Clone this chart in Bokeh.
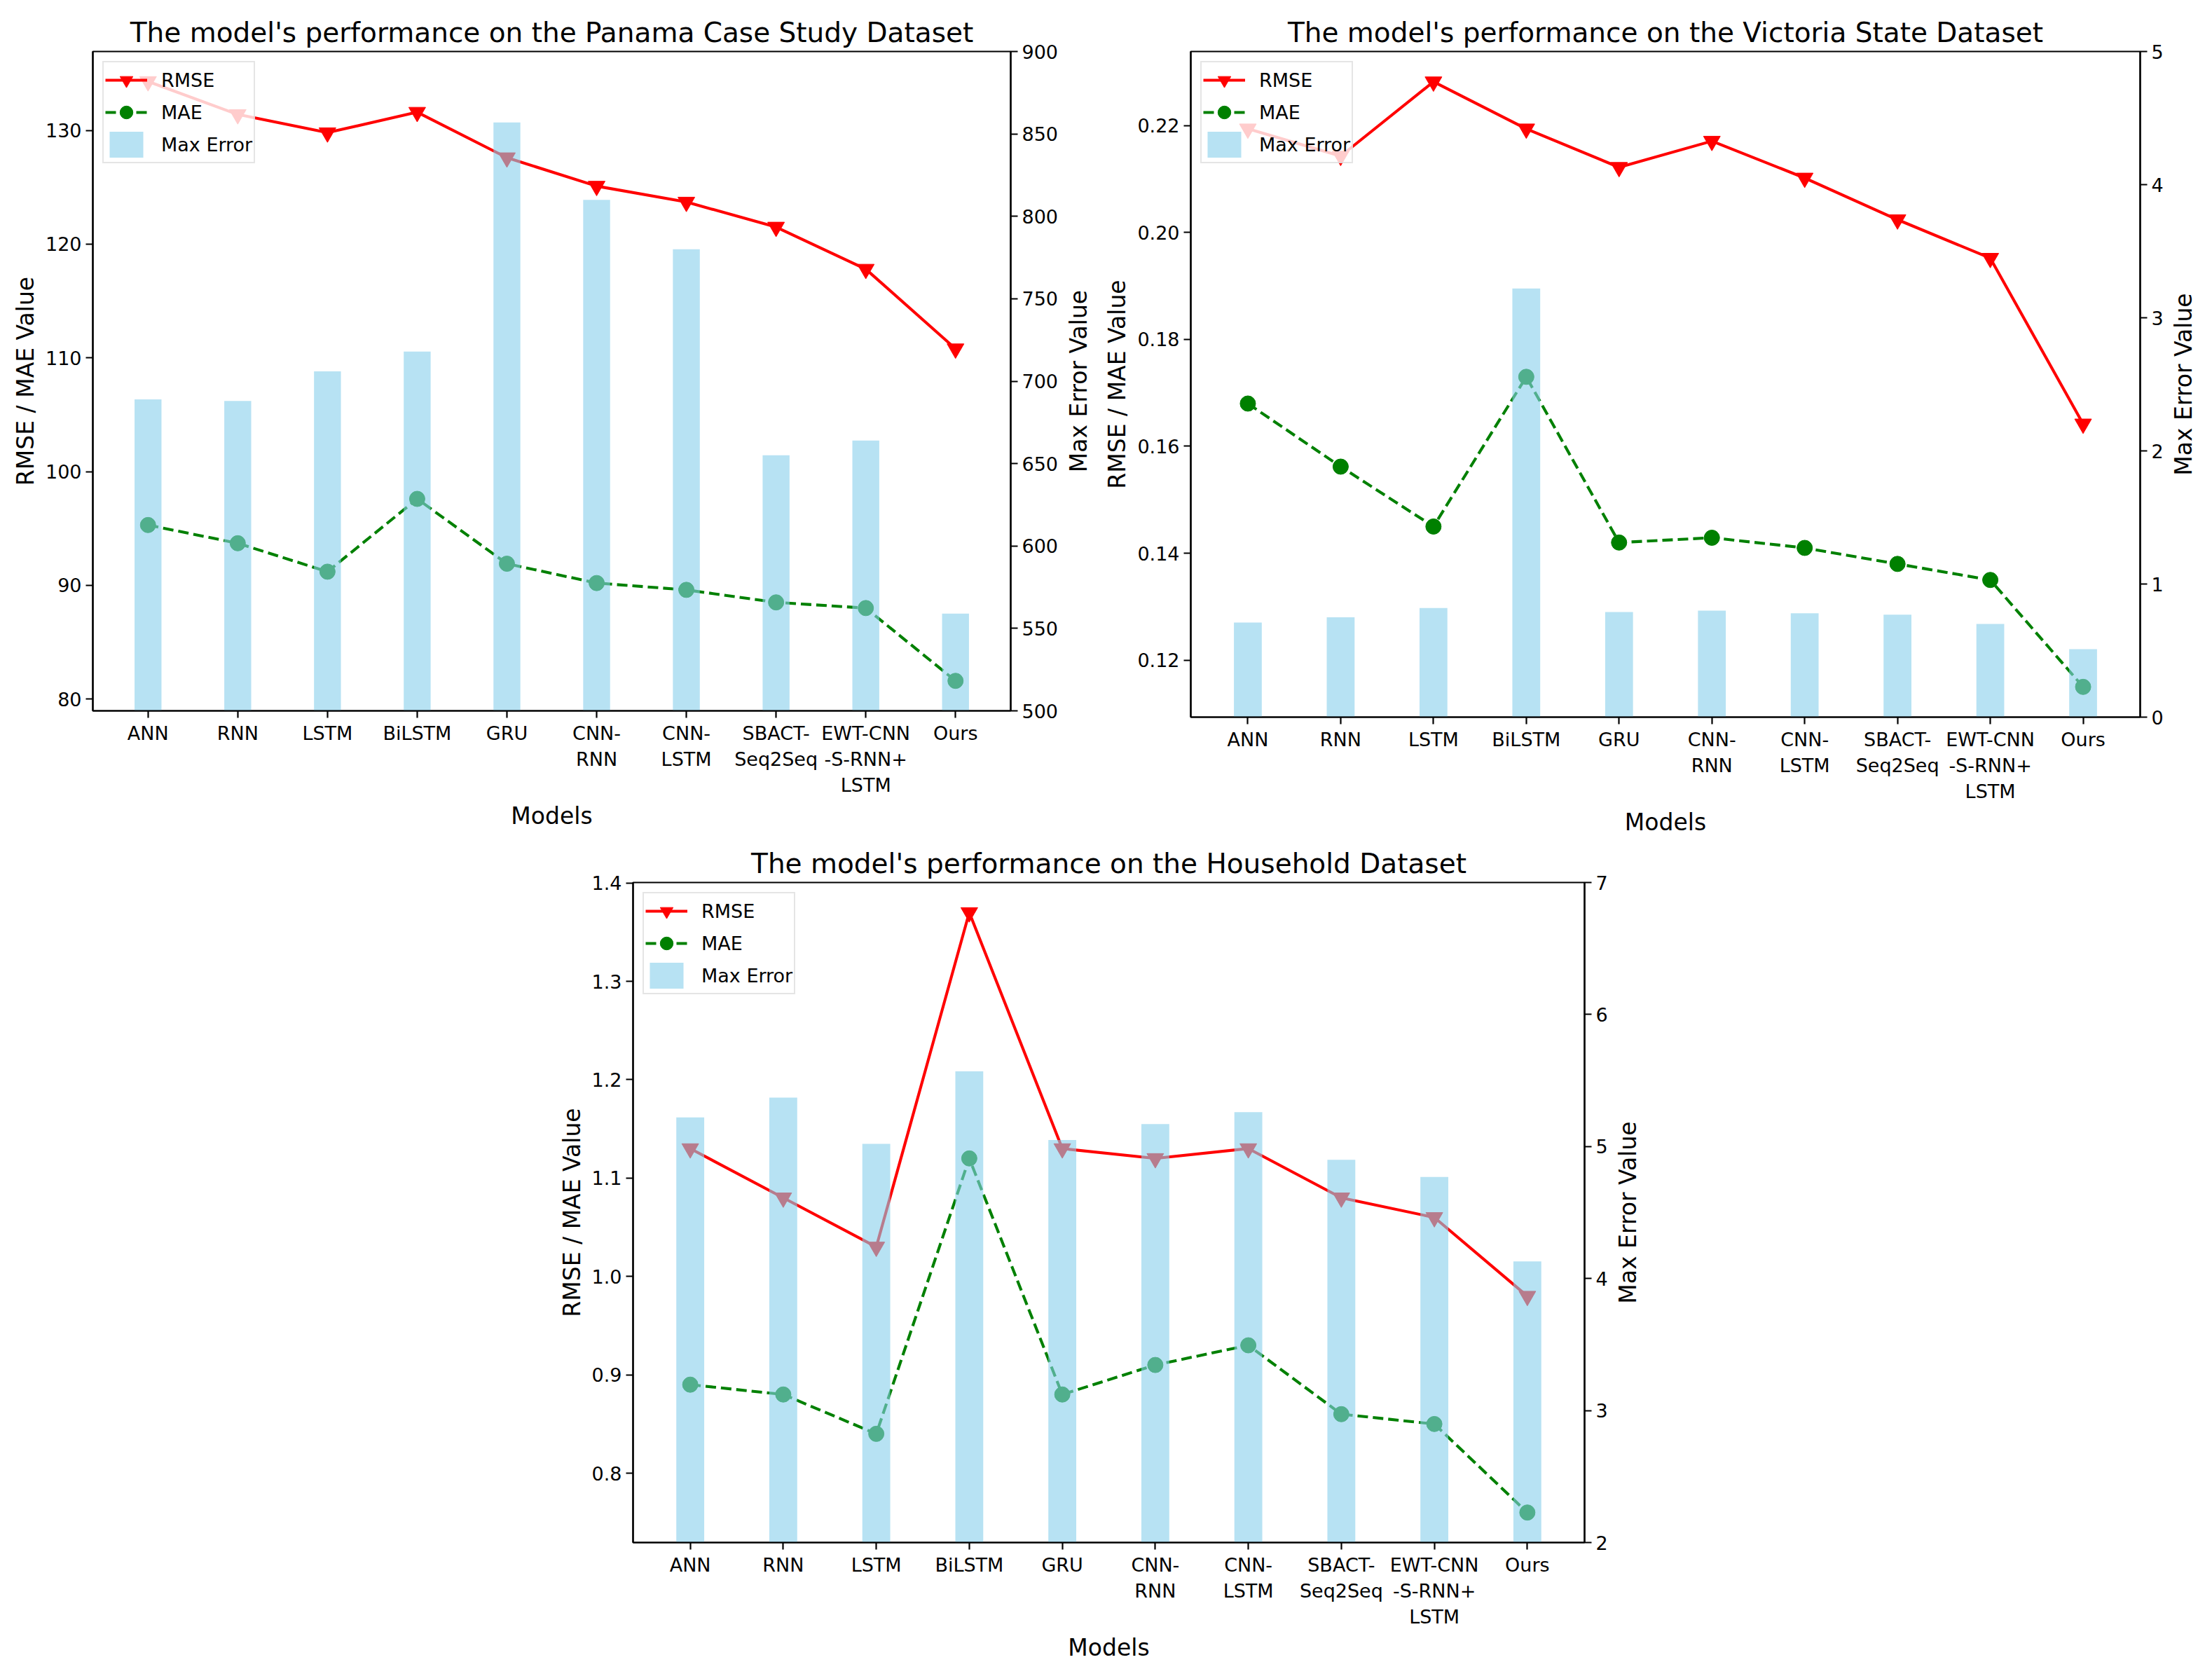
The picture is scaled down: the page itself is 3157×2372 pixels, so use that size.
import math
from bokeh.plotting import figure
from bokeh.models import Range1d, LinearAxis, FixedTicker, Legend, LegendItem
from bokeh.core.properties import value
from bokeh.layouts import column, row
from bokeh.embed import file_html
from bokeh.resources import INLINE

# ---------------- data ----------------
models = ["ANN", "RNN", "LSTM", "BiLSTM", "GRU", "CNN-\nRNN", "CNN-\nLSTM",
          "SBACT-\nSeq2Seq", "EWT-CNN\n-S-RNN+\nLSTM", "Ours"]

panama_rmse = [134.3, 131.4, 129.8, 131.6, 127.6, 125.1, 123.7, 121.5, 117.8, 110.8]
panama_mae = [95.3, 93.7, 91.2, 97.6, 91.9, 90.2, 89.6, 88.5, 88.0, 81.6]
panama_max = [689, 688, 706, 718, 857, 810, 780, 655, 664, 559]
panama_left_ticks = [80, 90, 100, 110, 120, 130]
panama_left_labels = ["80", "90", "100", "110", "120", "130"]
panama_right_ticks = [500, 550, 600, 650, 700, 750, 800, 850, 900]
panama_right_labels = ["500", "550", "600", "650", "700", "750", "800", "850", "900"]
panama_right_lim = [500, 900]

victoria_rmse = [0.2194, 0.2143, 0.2282, 0.2194, 0.2122, 0.2171, 0.2102, 0.2024, 0.1952, 0.1642]
victoria_mae = [0.1680, 0.1562, 0.1450, 0.1730, 0.1420, 0.1429, 0.1410, 0.1380, 0.1350, 0.1150]
victoria_max = [0.71, 0.75, 0.82, 3.22, 0.79, 0.80, 0.78, 0.77, 0.70, 0.51]
victoria_left_ticks = [0.12, 0.14, 0.16, 0.18, 0.20, 0.22]
victoria_left_labels = ["0.12", "0.14", "0.16", "0.18", "0.20", "0.22"]
victoria_right_ticks = [0, 1, 2, 3, 4, 5]
victoria_right_labels = ["0", "1", "2", "3", "4", "5"]
victoria_right_lim = [0, 5]

household_rmse = [1.13, 1.08, 1.03, 1.37, 1.13, 1.12, 1.13, 1.08, 1.06, 0.98]
household_mae = [0.89, 0.88, 0.84, 1.12, 0.88, 0.91, 0.93, 0.86, 0.85, 0.76]
household_max = [5.22, 5.37, 5.02, 5.57, 5.05, 5.17, 5.26, 4.90, 4.77, 4.13]
household_left_ticks = [0.8, 0.9, 1.0, 1.1, 1.2, 1.3, 1.4]
household_left_labels = ["0.8", "0.9", "1.0", "1.1", "1.2", "1.3", "1.4"]
household_right_ticks = [2, 3, 4, 5, 6, 7]
household_right_labels = ["2", "3", "4", "5", "6", "7"]
household_right_lim = [2, 7]

right_axis_title = "Max Error Value"

FONT = "DejaVu Sans"
BAR_W = 0.3
LAB_W = 44


def style_axis(ax):
    ax.axis_line_color = "black"
    ax.axis_line_width = 2.2
    ax.major_tick_line_color = "black"
    ax.major_tick_line_width = 2.2
    ax.major_tick_in = 0
    ax.major_tick_out = 10
    ax.minor_tick_line_color = None
    ax.major_label_text_font = FONT
    ax.major_label_text_font_size = "27px"
    ax.major_label_text_color = "black"
    ax.major_label_standoff = 6
    ax.axis_label_text_font = FONT
    ax.axis_label_text_font_size = "33px"
    ax.axis_label_text_font_style = "normal"
    ax.axis_label_text_color = "black"
    ax.axis_label_standoff = 6


def make_panel(title, rmse, mae, maxerr, left_ticks, left_labels, right_ticks, right_labels,
               right_lim, fw, fh, bl, bt, br, bb):
    n = len(models)
    xs = list(range(n))
    vals = list(rmse) + list(mae)
    lo, hi = min(vals), max(vals)
    pad = 0.05 * (hi - lo)
    xlo, xhi = -BAR_W / 2, n - 1 + BAR_W / 2
    xpad = 0.05 * (xhi - xlo)
    p = figure(frame_width=fw, frame_height=fh,
               min_border_left=bl, min_border_top=bt, min_border_right=br, min_border_bottom=bb,
               x_range=Range1d(xlo - xpad, xhi + xpad), y_range=Range1d(lo - pad, hi + pad),
               output_backend="svg", toolbar_location=None, title=title,
               background_fill_color="white", border_fill_color="white")
    p.extra_y_ranges = {"max": Range1d(right_lim[0], right_lim[1])}
    p.grid.visible = False
    p.outline_line_color = "black"
    p.outline_line_width = 2.2
    p.title.text_font = FONT
    p.title.text_font_size = "39px"
    p.title.text_font_style = "normal"
    p.title.align = "center"
    p.title.text_color = "black"

    l1 = p.line(xs, rmse, line_color="red", line_width=4.1)
    s1 = p.scatter(xs, rmse, marker="inverted_triangle", size=24,
                   fill_color="red", line_color="red", line_width=1)
    l2 = p.line(xs, mae, line_color="green", line_width=4.1, line_dash="15 7")
    s2 = p.scatter(xs, mae, marker="circle", size=22,
                   fill_color="green", line_color="green", line_width=1)
    b = p.vbar(x=xs, top=maxerr, bottom=0, width=BAR_W, y_range_name="max",
               fill_color="skyblue", fill_alpha=0.6, line_color=None)

    p.xaxis.ticker = FixedTicker(ticks=xs)
    p.xaxis.major_label_overrides = {i: m for i, m in enumerate(models)}
    p.xaxis.axis_label = "Models"
    p.yaxis.ticker = FixedTicker(ticks=left_ticks)
    p.yaxis.major_label_overrides = {t: s for t, s in zip(left_ticks, left_labels)}
    p.yaxis.axis_label = "RMSE / MAE Value"

    rax = LinearAxis(y_range_name="max", ticker=FixedTicker(ticks=right_ticks))
    rax.major_label_overrides = {t: s for t, s in zip(right_ticks, right_labels)}
    p.add_layout(rax, "right")
    for ax in list(p.xaxis) + list(p.yaxis):
        style_axis(ax)
    style_axis(rax)

    legend = Legend(items=[LegendItem(label="RMSE", renderers=[l1, s1]),
                           LegendItem(label="MAE", renderers=[l2, s2]),
                           LegendItem(label="Max Error", renderers=[b])],
                    location="top_left")
    legend.margin = 14
    legend.padding = 2
    legend.spacing = 0
    legend.glyph_width = 60
    legend.glyph_height = 46
    legend.label_height = 46
    legend.label_standoff = 20
    legend.label_text_font = FONT
    legend.label_text_font_size = "27px"
    legend.label_text_color = "black"
    legend.background_fill_alpha = 0.8
    legend.border_line_color = "#cccccc"
    legend.border_line_width = 2
    p.add_layout(legend)

    # narrow strip holding the right axis title (reads bottom-to-top)
    lab = figure(frame_width=LAB_W, frame_height=fh, min_border=0,
                 min_border_top=bt, min_border_bottom=bb,
                 x_range=Range1d(0, 1), y_range=Range1d(0, 1),
                 x_axis_type=None, y_axis_type=None,
                 output_backend="svg", toolbar_location=None,
                 background_fill_color="white", border_fill_color="white")
    lab.outline_line_color = None
    lab.grid.visible = False
    lab.text(x=[0.5], y=[0.5], text=[right_axis_title], angle=math.pi / 2,
             text_align="center", text_baseline="middle",
             text_font=value(FONT), text_font_size="33px", text_color="black")
    return p, lab


p1, lab1 = make_panel("The model's performance on the Panama Case Study Dataset",
                      panama_rmse, panama_mae, panama_max,
                      panama_left_ticks, panama_left_labels, panama_right_ticks, panama_right_labels,
                      panama_right_lim, 1310, 941, 132, 73, 75, 180)
p2, lab2 = make_panel("The model's performance on the Victoria State Dataset",
                      victoria_rmse, victoria_mae, victoria_max,
                      victoria_left_ticks, victoria_left_labels, victoria_right_ticks, victoria_right_labels,
                      victoria_right_lim, 1355, 950, 138, 64, 40, 180)
p3, lab3 = make_panel("The model's performance on the Household Dataset",
                      household_rmse, household_mae, household_max,
                      household_left_ticks, household_left_labels, household_right_ticks, household_right_labels,
                      household_right_lim, 1358, 942, 903, 65, 40, 150)

layout = column(row(p1, lab1, p2, lab2), row(p3, lab3))

open("out.html", "w").write(file_html(layout, INLINE))
